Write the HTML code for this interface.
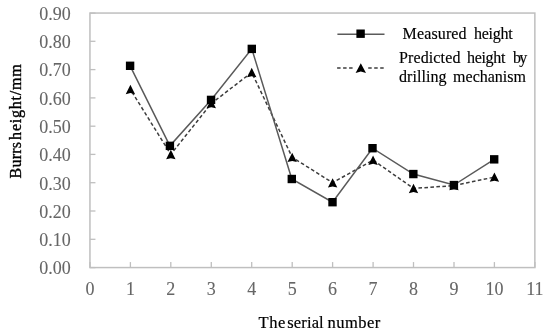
<!DOCTYPE html>
<html><head><meta charset="utf-8"><style>
html,body{margin:0;padding:0;background:#fff;}
svg{display:block;}
.t{font-family:"Liberation Serif",serif;font-size:18px;fill:#666666;stroke:#666666;stroke-width:0.1px;}
.l{font-family:"Liberation Serif",serif;font-size:16px;fill:#000;stroke:#000;stroke-width:0.15px;}
.xt{font-family:"Liberation Serif",serif;font-size:16.5px;fill:#000;stroke:#000;stroke-width:0.2px;}
.yt{font-family:"Liberation Serif",serif;font-size:16px;fill:#000;stroke:#000;stroke-width:0.35px;}
</style></head><body>
<svg width="550" height="333" viewBox="0 0 550 333">
<rect x="89.95" y="13.05" width="444.90" height="254.52" fill="none" stroke="#bfbfbf" stroke-width="1.5"/>
<line x1="89.95" y1="267.6" x2="95.45" y2="267.6" stroke="#bfbfbf" stroke-width="1.3"/>
<text x="70.7" y="274.4" text-anchor="end" class="t">0.00</text>
<line x1="89.95" y1="239.3" x2="95.45" y2="239.3" stroke="#bfbfbf" stroke-width="1.3"/>
<text x="70.7" y="246.1" text-anchor="end" class="t">0.10</text>
<line x1="89.95" y1="211.0" x2="95.45" y2="211.0" stroke="#bfbfbf" stroke-width="1.3"/>
<text x="70.7" y="217.8" text-anchor="end" class="t">0.20</text>
<line x1="89.95" y1="182.7" x2="95.45" y2="182.7" stroke="#bfbfbf" stroke-width="1.3"/>
<text x="70.7" y="189.5" text-anchor="end" class="t">0.30</text>
<line x1="89.95" y1="154.4" x2="95.45" y2="154.4" stroke="#bfbfbf" stroke-width="1.3"/>
<text x="70.7" y="161.2" text-anchor="end" class="t">0.40</text>
<line x1="89.95" y1="126.2" x2="95.45" y2="126.2" stroke="#bfbfbf" stroke-width="1.3"/>
<text x="70.7" y="133.0" text-anchor="end" class="t">0.50</text>
<line x1="89.95" y1="97.9" x2="95.45" y2="97.9" stroke="#bfbfbf" stroke-width="1.3"/>
<text x="70.7" y="104.7" text-anchor="end" class="t">0.60</text>
<line x1="89.95" y1="69.6" x2="95.45" y2="69.6" stroke="#bfbfbf" stroke-width="1.3"/>
<text x="70.7" y="76.4" text-anchor="end" class="t">0.70</text>
<line x1="89.95" y1="41.3" x2="95.45" y2="41.3" stroke="#bfbfbf" stroke-width="1.3"/>
<text x="70.7" y="48.1" text-anchor="end" class="t">0.80</text>
<line x1="89.95" y1="13.1" x2="95.45" y2="13.1" stroke="#bfbfbf" stroke-width="1.3"/>
<text x="70.7" y="19.9" text-anchor="end" class="t">0.90</text>
<line x1="90.0" y1="267.57" x2="90.0" y2="262.07" stroke="#bfbfbf" stroke-width="1.3"/>
<text x="90.0" y="294.5" text-anchor="middle" class="t">0</text>
<line x1="130.4" y1="267.57" x2="130.4" y2="262.07" stroke="#bfbfbf" stroke-width="1.3"/>
<text x="130.4" y="294.5" text-anchor="middle" class="t">1</text>
<line x1="170.8" y1="267.57" x2="170.8" y2="262.07" stroke="#bfbfbf" stroke-width="1.3"/>
<text x="170.8" y="294.5" text-anchor="middle" class="t">2</text>
<line x1="211.3" y1="267.57" x2="211.3" y2="262.07" stroke="#bfbfbf" stroke-width="1.3"/>
<text x="211.3" y="294.5" text-anchor="middle" class="t">3</text>
<line x1="251.7" y1="267.57" x2="251.7" y2="262.07" stroke="#bfbfbf" stroke-width="1.3"/>
<text x="251.7" y="294.5" text-anchor="middle" class="t">4</text>
<line x1="292.2" y1="267.57" x2="292.2" y2="262.07" stroke="#bfbfbf" stroke-width="1.3"/>
<text x="292.2" y="294.5" text-anchor="middle" class="t">5</text>
<line x1="332.6" y1="267.57" x2="332.6" y2="262.07" stroke="#bfbfbf" stroke-width="1.3"/>
<text x="332.6" y="294.5" text-anchor="middle" class="t">6</text>
<line x1="373.1" y1="267.57" x2="373.1" y2="262.07" stroke="#bfbfbf" stroke-width="1.3"/>
<text x="373.1" y="294.5" text-anchor="middle" class="t">7</text>
<line x1="413.5" y1="267.57" x2="413.5" y2="262.07" stroke="#bfbfbf" stroke-width="1.3"/>
<text x="413.5" y="294.5" text-anchor="middle" class="t">8</text>
<line x1="454.0" y1="267.57" x2="454.0" y2="262.07" stroke="#bfbfbf" stroke-width="1.3"/>
<text x="454.0" y="294.5" text-anchor="middle" class="t">9</text>
<line x1="494.4" y1="267.57" x2="494.4" y2="262.07" stroke="#bfbfbf" stroke-width="1.3"/>
<text x="494.4" y="294.5" text-anchor="middle" class="t">10</text>
<line x1="534.9" y1="267.57" x2="534.9" y2="262.07" stroke="#bfbfbf" stroke-width="1.3"/>
<text x="534.9" y="294.5" text-anchor="middle" class="t">11</text>
<polyline points="130.4,89.4 170.8,154.4 211.3,103.5 251.7,72.4 292.2,157.3 332.6,182.7 373.1,160.1 413.5,188.4 454.0,185.6 494.4,177.1" fill="none" stroke="#3d3d3d" stroke-width="1.5" stroke-dasharray="3.6,2.4" stroke-dashoffset="3.0"/>
<polyline points="130.10,65.80 169.90,145.85 211.05,99.90 251.80,48.90 291.80,179.00 332.50,202.20 372.50,148.20 413.35,174.05 453.90,185.05 494.20,159.35" fill="none" stroke="#5a5a5a" stroke-width="1.5"/>
<polygon points="130.40,84.81 135.10,94.21 130.40,93.11 125.70,94.21" fill="#000"/>
<polygon points="170.84,149.85 175.54,159.25 170.84,158.15 166.14,159.25" fill="#000"/>
<polygon points="211.29,98.95 215.99,108.35 211.29,107.25 206.59,108.35" fill="#000"/>
<polygon points="251.73,67.84 256.43,77.24 251.73,76.14 247.03,77.24" fill="#000"/>
<polygon points="292.18,152.68 296.88,162.08 292.18,160.98 287.48,162.08" fill="#000"/>
<polygon points="332.62,178.13 337.32,187.53 332.62,186.43 327.92,187.53" fill="#000"/>
<polygon points="373.07,155.51 377.77,164.91 373.07,163.81 368.37,164.91" fill="#000"/>
<polygon points="413.51,183.79 418.21,193.19 413.51,192.09 408.81,193.19" fill="#000"/>
<polygon points="453.96,180.96 458.66,190.36 453.96,189.26 449.26,190.36" fill="#000"/>
<polygon points="494.40,172.47 499.10,181.87 494.40,180.77 489.70,181.87" fill="#000"/>
<rect x="125.90" y="61.60" width="8.4" height="8.4" fill="#000"/>
<rect x="165.70" y="141.65" width="8.4" height="8.4" fill="#000"/>
<rect x="206.85" y="95.70" width="8.4" height="8.4" fill="#000"/>
<rect x="247.60" y="44.70" width="8.4" height="8.4" fill="#000"/>
<rect x="287.60" y="174.80" width="8.4" height="8.4" fill="#000"/>
<rect x="328.30" y="198.00" width="8.4" height="8.4" fill="#000"/>
<rect x="368.30" y="144.00" width="8.4" height="8.4" fill="#000"/>
<rect x="409.15" y="169.85" width="8.4" height="8.4" fill="#000"/>
<rect x="449.70" y="180.85" width="8.4" height="8.4" fill="#000"/>
<rect x="490.00" y="155.15" width="8.4" height="8.4" fill="#000"/>
<line x1="337.4" y1="34.3" x2="384.5" y2="34.3" stroke="#5a5a5a" stroke-width="1.5"/>
<rect x="356.4" y="29.5" width="8.4" height="8.4" fill="#000"/>
<line x1="337.1" y1="68" x2="352.6" y2="68" stroke="#3d3d3d" stroke-width="1.5" stroke-dasharray="3.5,2.5"/>
<line x1="368.2" y1="68" x2="384" y2="68" stroke="#3d3d3d" stroke-width="1.5" stroke-dasharray="3.5,2.5"/>
<polygon points="360.8,63.3 366,72.9 360.8,71.6 355.6,72.9" fill="#000"/>
<text x="402.59" y="39.3" class="l" textLength="64.01" lengthAdjust="spacing">Measured</text>
<text x="473.90" y="39.3" class="l" textLength="38.70" lengthAdjust="spacing">height</text>
<text x="398.88" y="62.5" class="l" textLength="61.55" lengthAdjust="spacing">Predicted</text>
<text x="467.00" y="62.5" class="l" textLength="38.40" lengthAdjust="spacing">height</text>
<text x="512.90" y="62.5" class="l" textLength="14.30" lengthAdjust="spacing">by</text>
<text x="398.89" y="81.7" class="l" textLength="47.72" lengthAdjust="spacing">drilling</text>
<text x="453.10" y="81.7" class="l" textLength="72.88" lengthAdjust="spacing">mechanism</text>
<text x="258.60" y="327.6" class="xt" textLength="26.84" lengthAdjust="spacing">The</text>
<text x="287.25" y="327.6" class="xt" textLength="36.45" lengthAdjust="spacing">serial</text>
<text x="327.42" y="327.6" class="xt" textLength="52.95" lengthAdjust="spacing">number</text>
<g transform="translate(20.6,0) rotate(-90)"><text x="-178.5" y="0" class="yt" textLength="36.6" lengthAdjust="spacing">Burrs</text><text x="-139.9" y="0" class="yt" textLength="75.6" lengthAdjust="spacing">height/mm</text></g>
</svg>
</body></html>
